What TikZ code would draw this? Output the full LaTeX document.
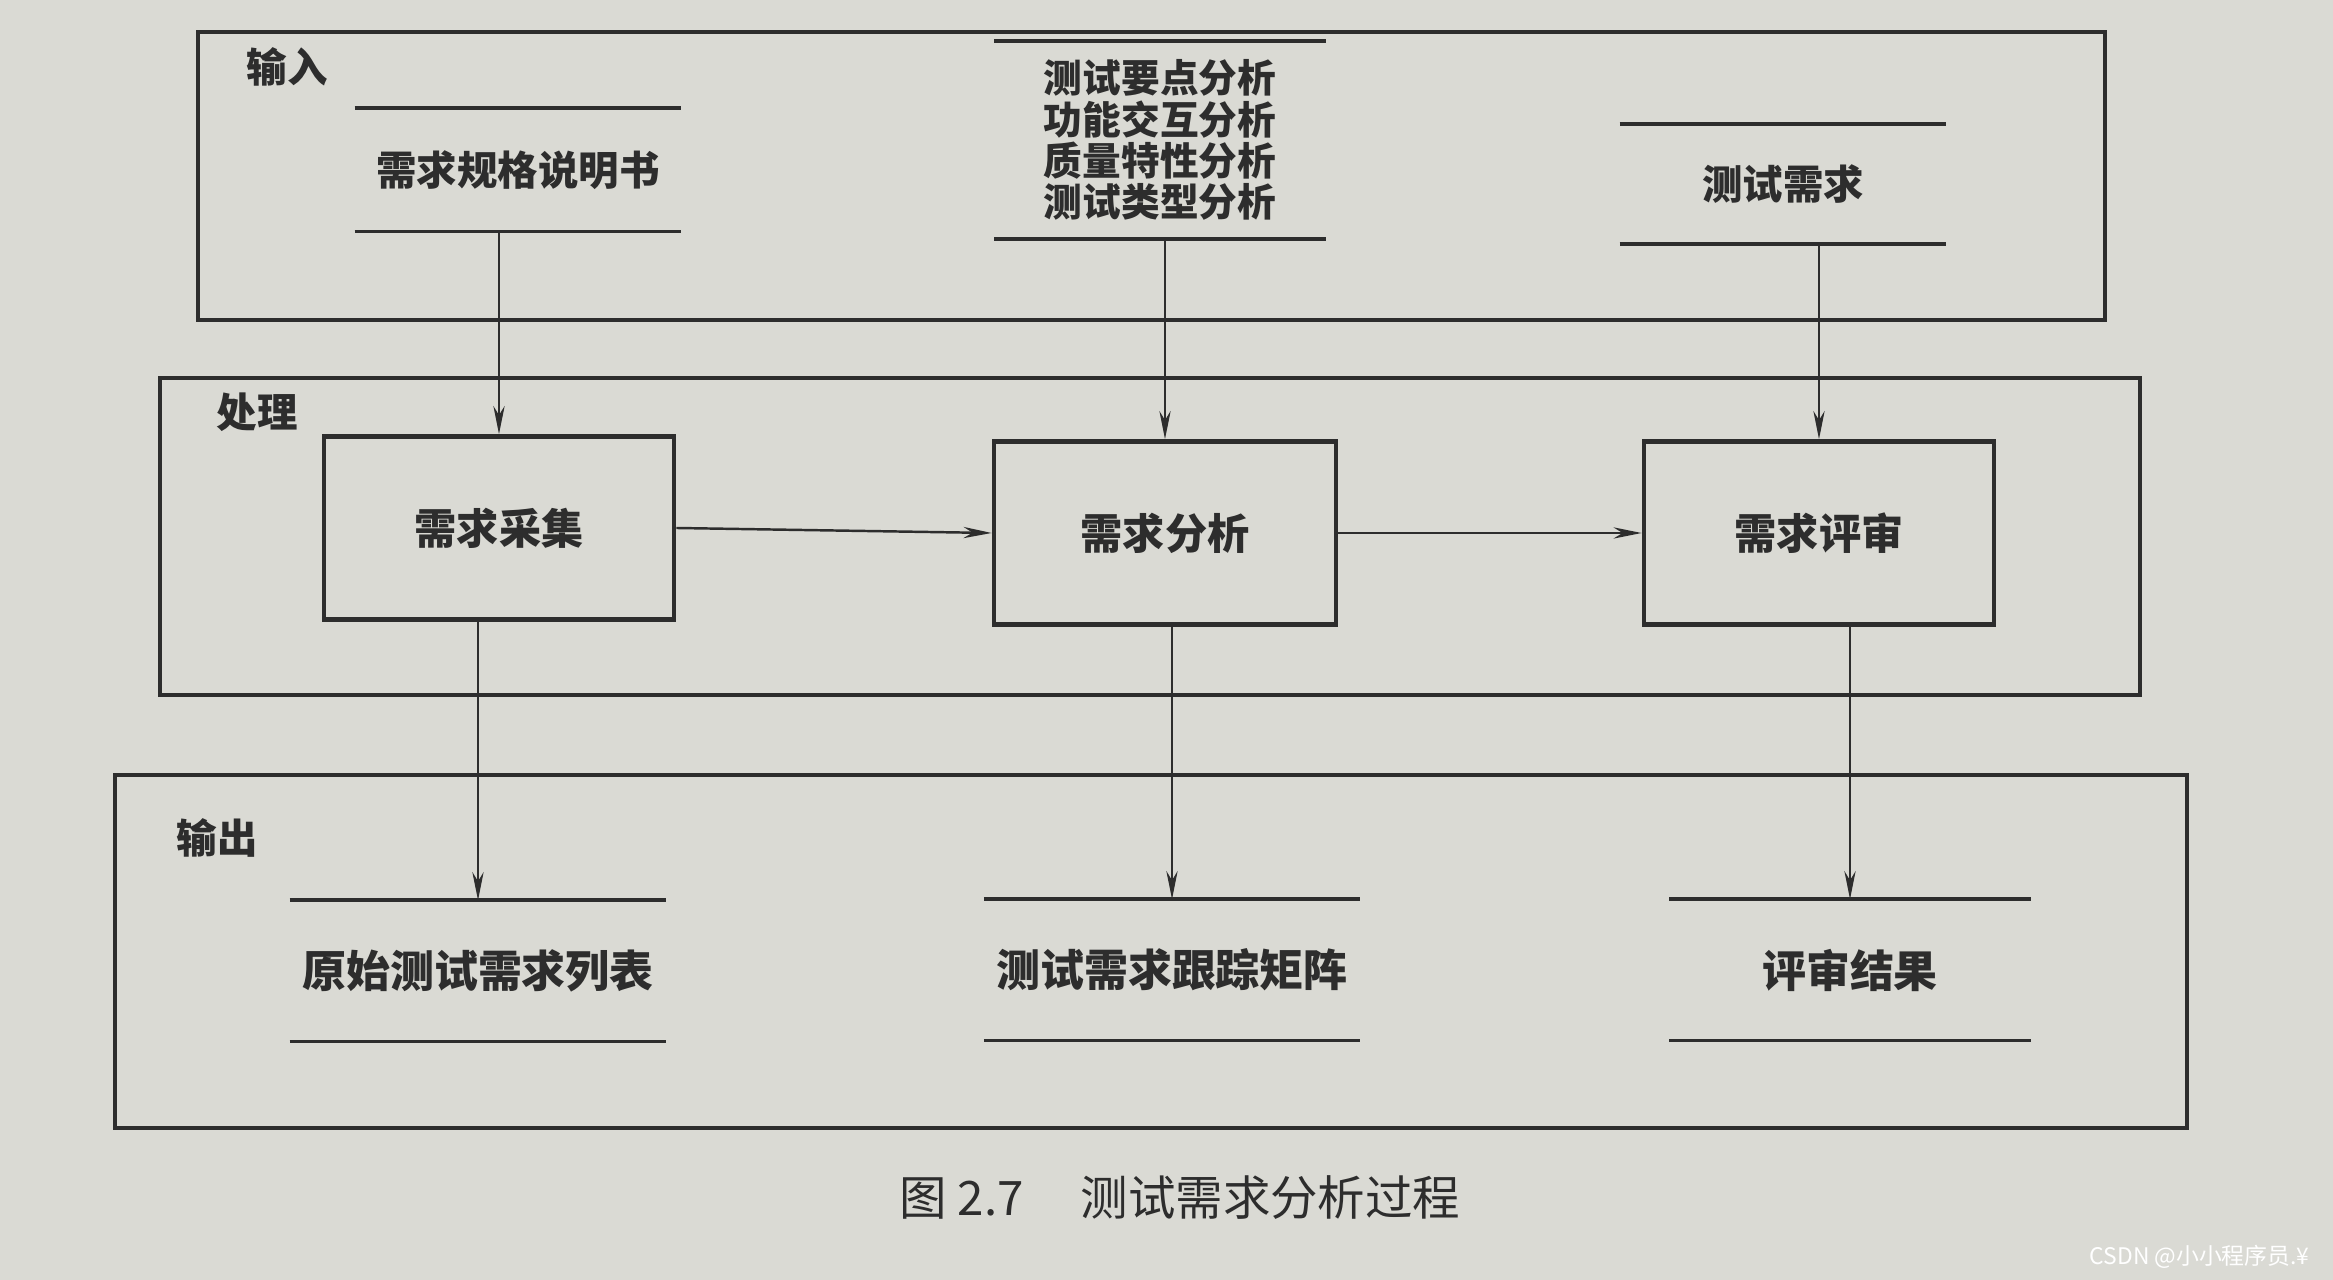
\documentclass[tikz,border=0pt]{standalone}
\usepackage{fontspec}
\setmainfont{Noto Sans CJK SC}
\usetikzlibrary{arrows.meta}
\definecolor{paper}{RGB}{218,218,212}
\definecolor{ink}{RGB}{45,45,45}
\tikzset{
  band/.style={draw=ink, line width=0.9pt},
  tag/.style={font=\fontsize{11.5}{12}\selectfont\bfseries, text=ink},
  procbox/.style={draw=ink, line width=1.3pt, minimum width=3.5cm, minimum height=1.83cm,
    font=\fontsize{12}{14}\selectfont\bfseries, text=ink},
  doc/.style={minimum width=3.3cm, font=\fontsize{11.5}{12}\selectfont\bfseries, text=ink, align=center},
  outdoc/.style={doc, minimum width=3.6cm, minimum height=1.4cm, font=\fontsize{12.5}{14}\selectfont\bfseries},
  docline/.style={draw=ink, line width=1pt},
  flow/.style={draw=ink, line width=0.7pt, -{Stealth[length=8pt,width=3.2pt]}}
}
\begin{document}
\begin{tikzpicture}[x=0.01cm, y=-0.01cm]
  \useasboundingbox (0,0) rectangle (2333,1280);
  \fill[paper] (0,0) rectangle (2333,1280);

  % three bands
  \draw[band] (198,32) rectangle (2105,320);
  \draw[band] (160,378) rectangle (2140,695);
  \draw[band] (115,775) rectangle (2187,1128);
  \node[tag] (intag) at (287,67) {输入};
  \node[tag] (proctag) at (257,412) {处理};
  \node[tag] (outtag) at (217,838) {输出};

  % inputs
  \node[doc, minimum width=3.25cm, minimum height=1.22cm] (spec) at (518,170) {需求规格说明书};
  \node[doc, minimum height=1.96cm, font=\fontsize{11}{11.7}\selectfont\bfseries] (points) at (1160,140)
    {测试要点分析\\功能交互分析\\质量特性分析\\测试类型分析};
  \node[doc, minimum width=3.25cm, minimum height=1.19cm] (needs) at (1783,184) {测试需求};

  % process
  \node[procbox] (collect) at (499,528) {需求采集};
  \node[procbox, minimum width=3.42cm] (analysis) at (1165,533) {需求分析};
  \node[procbox] (review) at (1819,533) {需求评审};

  % outputs
  \node[outdoc] (rawlist) at (478,971) {原始测试需求列表};
  \node[outdoc] (trace) at (1172,970) {测试需求跟踪矩阵};
  \node[outdoc] (result) at (1850,970) {评审结果};

  \foreach \n in {spec,points,needs,rawlist,trace,result}
    \draw[docline] (\n.north west) -- (\n.north east) (\n.south west) -- (\n.south east);

  \draw[flow] (collect.north |- spec.south) -- (collect.north);
  \draw[flow] (analysis.north |- points.south) -- (analysis.north);
  \draw[flow] (review.north |- needs.south) -- (review.north);
  \draw[flow] (collect.east) -- (analysis.west);
  \draw[flow] (analysis.east) -- (review.west);
  \draw[flow] (rawlist.north |- collect.south) -- (rawlist.north);
  \draw[flow] (trace.north |- analysis.south) -- (trace.north);
  \draw[flow] (result.north |- review.south) -- (result.north);

  \node[font=\fontsize{13.5}{15}\selectfont, text=ink] (caption) at (1180,1198) {图 2.7\hspace{1.2em}测试需求分析过程};
  \node[font=\fontsize{6.5}{7}\selectfont, text=white, anchor=east] (mark) at (2322,1257) {CSDN @小小程序员.¥};
\end{tikzpicture}
\end{document}
